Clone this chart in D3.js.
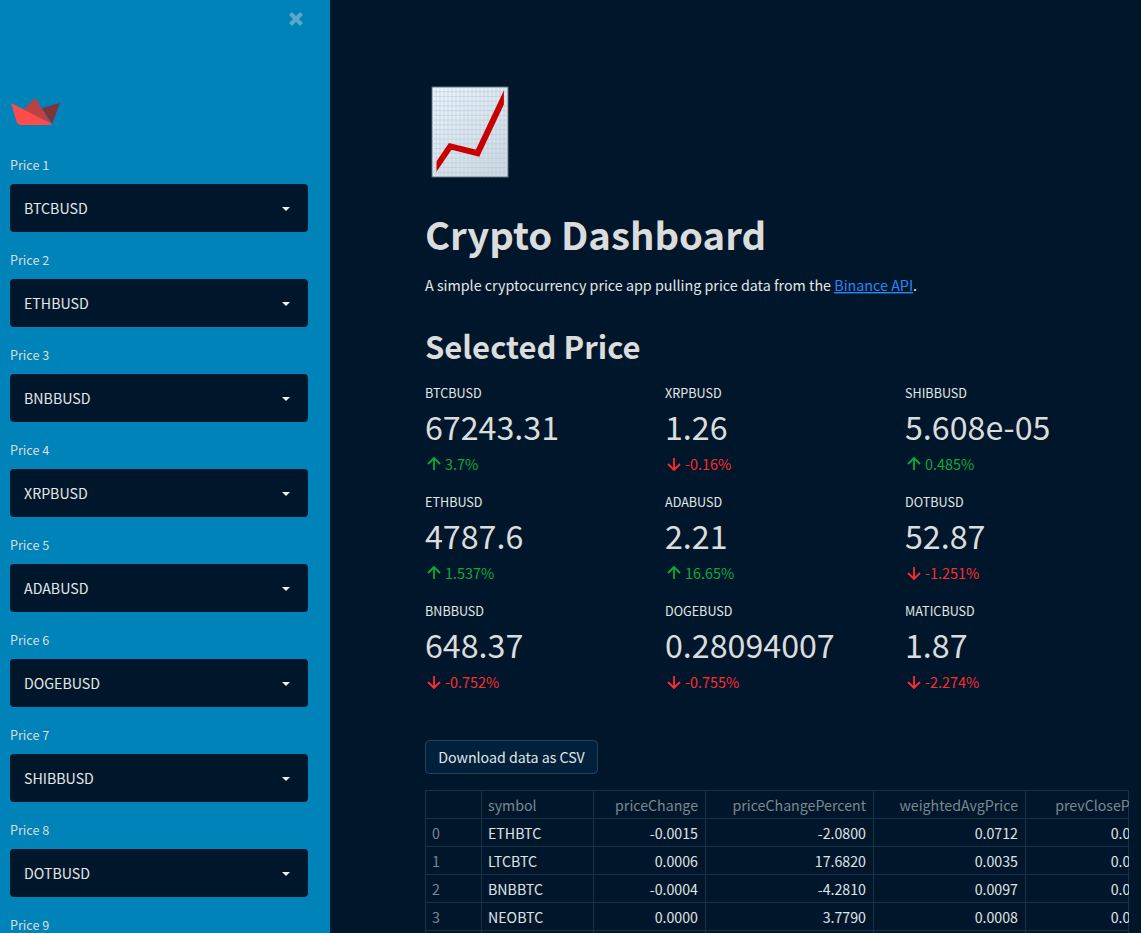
<!DOCTYPE html>
<html>
<head>
<meta charset="utf-8">
<script src="https://cdn.jsdelivr.net/npm/d3@7"></script>
<style>
  html, body { margin: 0; padding: 0; background: #00172b; overflow: hidden; }
  svg { display: block; }
  text { font-family: "Noto Sans CJK JP", "Noto Sans", sans-serif; }
</style>
</head>
<body>
<svg id="page" width="1141" height="933"></svg>
<script>
// sidebar select boxes
const priceLabels = ["Price 1", "Price 2", "Price 3", "Price 4", "Price 5", "Price 6", "Price 7", "Price 8", "Price 9"];
const priceSymbols = ["BTCBUSD", "ETHBUSD", "BNBBUSD", "XRPBUSD", "ADABUSD", "DOGEBUSD", "SHIBBUSD", "DOTBUSD", "MATICBUSD"];

// metric cards, same order as the selects
const metricValues = ["67243.31", "4787.6", "648.37", "1.26", "2.21", "0.28094007", "5.608e-05", "52.87", "1.87"];
const metricDeltas = ["3.7%", "1.537%", "-0.752%", "-0.16%", "16.65%", "-0.755%", "0.485%", "-1.251%", "-2.274%"];

// table
const tableColumns = ["", "symbol", "priceChange", "priceChangePercent", "weightedAvgPrice", "prevClosePrice"];
const tableIndex = ["0", "1", "2", "3"];
const tableSymbols = ["ETHBTC", "LTCBTC", "BNBBTC", "NEOBTC"];
const tablePriceChange = ["-0.0015", "0.0006", "-0.0004", "0.0000"];
const tablePercent = ["-2.0800", "17.6820", "-4.2810", "3.7790"];
const tableWeighted = ["0.0712", "0.0035", "0.0097", "0.0008"];
const tablePrevClose = ["0.0716", "0.0034", "0.0097", "0.0008"];

// emoji line, fractions of the icon box (ends run past the clip)
const emojiLine = [[0, 0.956], [0.24, 0.66], [0.6, 0.735], [1, 0.02]];

const svg = d3.select("#page");
const textColor = "#dcdcdc";

// ---- sidebar
svg.append("rect").attr("width", 330).attr("height", 933).attr("fill", "#0083b8");

svg.append("path")
  .attr("d", "M290.5 13.5L301.5 24.5M301.5 13.5L290.5 24.5")
  .attr("stroke", "#5aa9cc").attr("stroke-width", 4).attr("fill", "none");

// logo
const logo = svg.append("g").attr("transform", "translate(10,98)");
logo.append("polygon").attr("points", "13,12 25,0 39,22 26,14").attr("fill", "#bd4043");
logo.append("polygon").attr("points", "24,1 31,11 41,25 17,14").attr("fill", "#bd4043");
logo.append("polygon").attr("points", "32,10 50,5 42,26").attr("fill", "#7d353b");
logo.append("polygon").attr("points", "1,5 42,26 40,27 10,27 7,25").attr("fill", "#ff4b4b");

const selectY = d3.scaleLinear().domain([0, 1]).range([184, 279]);

const selects = svg.append("g").selectAll("g")
  .data(priceLabels)
  .enter()
  .append("g")
    .attr("transform", (d, i) => `translate(10,${selectY(i)})`);

selects.append("text")
  .attr("y", -14)
  .attr("font-size", 12.6)
  .attr("fill", "#dcdcdc")
  .text(d => d);

selects.append("rect")
  .attr("width", 298).attr("height", 48).attr("rx", 4)
  .attr("fill", "#00172b");

selects.append("text")
  .attr("x", 14).attr("y", 30)
  .attr("font-size", 14.2)
  .attr("fill", "#e6e6e6")
  .text((d, i) => priceSymbols[i]);

selects.append("path")
  .attr("d", "M272 23h8l-4 4z")
  .attr("fill", "#f0f0f0");

// ---- header
const emojiX = d3.scaleLinear().domain([0, 1]).range([432, 508]);
const emojiY = d3.scaleLinear().domain([0, 1]).range([87, 177]);

const defs = svg.append("defs");
const grad = defs.append("linearGradient").attr("id", "paper")
  .attr("x1", 0).attr("y1", 0).attr("x2", 0.7).attr("y2", 1);
grad.append("stop").attr("offset", 0).attr("stop-color", "#eef5fb");
grad.append("stop").attr("offset", 1).attr("stop-color", "#d3dae0");

defs.append("clipPath").attr("id", "emojiClip")
  .append("rect")
    .attr("x", emojiX(0.06)).attr("y", emojiY(0))
    .attr("width", emojiX(0.946) - emojiX(0.06)).attr("height", emojiY(1) - emojiY(0));

svg.append("rect")
  .attr("x", emojiX(0)).attr("y", emojiY(0))
  .attr("width", emojiX(1) - emojiX(0)).attr("height", emojiY(1) - emojiY(0))
  .attr("fill", "url(#paper)")
  .attr("stroke", "#5d6f7d").attr("stroke-width", 1);

const gridSteps = d3.range(1, 19).map(d => d / 19);
svg.append("g").selectAll("line").data(gridSteps).enter().append("line")
  .attr("x1", d => emojiX(d)).attr("x2", d => emojiX(d))
  .attr("y1", emojiY(0)).attr("y2", emojiY(1))
  .attr("stroke", "#a9c8e4").attr("stroke-opacity", 0.5);
svg.append("g").selectAll("line").data(gridSteps).enter().append("line")
  .attr("y1", d => emojiY(d)).attr("y2", d => emojiY(d))
  .attr("x1", emojiX(0)).attr("x2", emojiX(1))
  .attr("stroke", "#a9c8e4").attr("stroke-opacity", 0.5);

svg.append("path")
  .attr("d", d3.line().x(d => emojiX(d[0])).y(d => emojiY(d[1]))(emojiLine))
  .attr("clip-path", "url(#emojiClip)")
  .attr("fill", "none")
  .attr("stroke", "#c70000").attr("stroke-width", 6);

svg.append("text")
  .attr("x", 425).attr("y", 250)
  .attr("font-size", 38.3).attr("font-weight", 700)
  .attr("fill", textColor)
  .text("Crypto Dashboard");

const intro = svg.append("text")
  .attr("x", 425).attr("y", 291)
  .attr("font-size", 14.3)
  .attr("fill", "#e6e6e6");
intro.append("tspan").text("A simple cryptocurrency price app pulling price data from the ");
intro.append("tspan").attr("fill", "#2a86f5").attr("text-decoration", "underline").text("Binance API");
intro.append("tspan").text(".");

svg.append("text")
  .attr("x", 425).attr("y", 358.5)
  .attr("font-size", 31).attr("font-weight", 700)
  .attr("fill", textColor)
  .text("Selected Price");

// ---- metrics, three per column
const metricX = d3.scaleLinear().domain([0, 1]).range([425, 665]);
const metricY = d3.scaleLinear().domain([0, 1]).range([0, 109]);

const cards = svg.append("g").selectAll("g")
  .data(priceSymbols)
  .enter()
  .append("g")
    .attr("transform", (d, i) => `translate(${metricX(Math.floor(i / 3))},${metricY(i % 3)})`);

cards.append("text")
  .attr("y", 398).attr("font-size", 12.6)
  .attr("fill", "#e6e6e6")
  .text(d => d);

cards.append("text")
  .attr("y", 440).attr("font-size", 32.2)
  .attr("fill", textColor)
  .text((d, i) => metricValues[i]);

const deltaColor = d => d.startsWith("-") ? "#ff2b2b" : "#09ab3b";

cards.append("path")
  .attr("d", (d, i) => metricDeltas[i].startsWith("-")
    ? "M9 458v12M3 464l6 6l6-6"
    : "M9 470v-12M3 464l6-6l6 6")
  .attr("fill", "none")
  .attr("stroke", (d, i) => deltaColor(metricDeltas[i]))
  .attr("stroke-width", 1.8);

cards.append("text")
  .attr("x", 20).attr("y", 470).attr("font-size", 14.4)
  .attr("fill", (d, i) => deltaColor(metricDeltas[i]))
  .text((d, i) => metricDeltas[i]);

// ---- download button
svg.append("rect")
  .attr("x", 425.5).attr("y", 740.5).attr("width", 172).attr("height", 33).attr("rx", 4)
  .attr("fill", "#00213b").attr("stroke", "#2b4257");
svg.append("text")
  .attr("x", 511.5).attr("y", 763)
  .attr("text-anchor", "middle").attr("font-size", 14.2)
  .attr("fill", "#e6e6e6")
  .text("Download data as CSV");

// ---- table
const colEdges = [425, 481, 593, 705, 873, 1025, 1161];
const tableY = d3.scaleLinear().domain([0, 1]).range([790, 818]);
const tableCols = [tableIndex, tableSymbols, tablePriceChange, tablePercent, tableWeighted, tablePrevClose];

svg.append("clipPath").attr("id", "tableClip")
  .append("rect").attr("x", 425).attr("y", 790).attr("width", 704).attr("height", 143);

const table = svg.append("g").attr("clip-path", "url(#tableClip)");

table.selectAll("line.col")
  .data(colEdges.slice(0, -1).concat(1128))
  .enter()
  .append("line")
    .attr("x1", d => d + 0.5).attr("x2", d => d + 0.5)
    .attr("y1", 790).attr("y2", 933)
    .attr("stroke", "#1b3245");

table.selectAll("line.row")
  .data(d3.range(0, 6))
  .enter()
  .append("line")
    .attr("x1", 425).attr("x2", 1128)
    .attr("y1", d => tableY(d) + 0.5).attr("y2", d => tableY(d) + 0.5)
    .attr("stroke", "#1b3245");

const cellX = (c) => c < 2 ? colEdges[c] + 7 : colEdges[c + 1] - 7;
const cellAnchor = (c) => c < 2 ? "start" : "end";

table.selectAll("text.head")
  .data(tableColumns)
  .enter()
  .append("text")
    .attr("x", (d, c) => cellX(c))
    .attr("y", 811)
    .attr("text-anchor", (d, c) => cellAnchor(c))
    .attr("font-size", 14.2)
    .attr("fill", "#7d8790")
    .text(d => d);

tableCols.forEach((col, c) => {
  table.selectAll(`text.c${c}`)
    .data(col)
    .enter()
    .append("text")
      .attr("class", `c${c}`)
      .attr("x", cellX(c))
      .attr("y", (d, r) => tableY(r + 1) + 21)
      .attr("text-anchor", cellAnchor(c))
      .attr("font-size", 14.2)
      .attr("fill", c === 0 ? "#7d8790" : "#e0e3e6")
      .text(d => d);
});
</script>
</body>
</html>
